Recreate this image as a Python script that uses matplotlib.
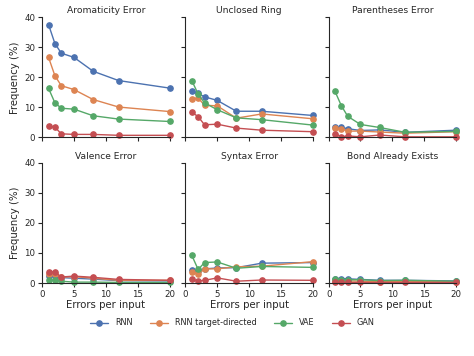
import matplotlib
matplotlib.use("Agg")
import matplotlib.pyplot as plt
import seaborn as sns

errors = [1, 2, 3, 5, 8, 12, 20]
models = ["RNN", "RNN target-directed", "VAE", "GAN"]
titles = ["Aromaticity Error", "Unclosed Ring", "Parentheses Error",
          "Valence Error", "Syntax Error", "Bond Already Exists"]

# frequency (%) per panel, one list per model
aromaticity = [
    [37.5, 31.2, 28.0, 26.6, 22.0, 18.9, 16.4],
    [26.6, 20.5, 17.2, 15.9, 12.6, 10.1, 8.6],
    [16.3, 11.5, 9.7, 9.4, 7.2, 6.1, 5.3],
    [3.8, 3.4, 1.2, 1.0, 1.0, 0.7, 0.7],
]
unclosed = [
    [15.5, 14.6, 13.5, 12.3, 8.7, 8.7, 7.3],
    [12.7, 13.1, 10.7, 10.5, 6.4, 7.8, 6.2],
    [18.9, 14.4, 11.5, 9.2, 6.5, 5.9, 4.1],
    [8.4, 6.9, 4.2, 4.4, 3.1, 2.4, 1.9],
]
parentheses = [
    [3.3, 3.3, 2.9, 2.3, 2.5, 1.7, 2.4],
    [3.0, 2.8, 2.1, 2.1, 1.8, 1.4, 1.9],
    [15.3, 10.5, 7.0, 4.3, 3.3, 1.7, 2.0],
    [1.3, 0.2, 0.5, 0.2, 0.8, 0.2, 0.2],
]
valence = [
    [2.4, 2.2, 1.8, 1.6, 1.3, 0.8, 0.7],
    [3.1, 2.9, 2.0, 2.1, 1.6, 0.9, 0.9],
    [1.1, 0.9, 0.6, 0.3, 0.3, 0.2, 0.2],
    [3.7, 3.7, 2.0, 2.3, 1.9, 1.2, 0.9],
]
syntax = [
    [4.2, 4.0, 4.7, 5.0, 5.1, 6.6, 6.8],
    [3.8, 2.9, 4.7, 4.7, 5.4, 5.6, 7.1],
    [9.2, 4.5, 6.8, 7.0, 4.9, 5.5, 5.2],
    [1.2, 0.7, 0.9, 1.7, 0.6, 1.0, 0.9],
]
bond = [
    [1.5, 1.5, 1.4, 1.2, 0.9, 0.9, 0.7],
    [0.7, 0.7, 0.7, 0.6, 0.4, 0.6, 0.4],
    [1.2, 1.1, 1.1, 1.1, 0.8, 0.9, 0.6],
    [0.2, 0.2, 0.2, 0.2, 0.2, 0.2, 0.2],
]
panels = [aromaticity, unclosed, parentheses, valence, syntax, bond]

sns.set_theme(style="ticks")
plt.rcParams['font.family'] = ['DejaVu Sans']
colors = sns.color_palette("deep", 4)

fig, axes = plt.subplots(2, 3, figsize=(4.74, 3.56), dpi=100, sharex=True, sharey=True)
fig.subplots_adjust(left=0.089, right=0.962, top=0.952, bottom=0.205,
                    wspace=0.125, hspace=0.21)

for ax, title, data in zip(axes.flat, titles, panels):
    for name, vals, c in zip(models, data, colors):
        ax.plot(errors, vals, marker='o', markersize=3.8, linewidth=1.0,
                color=c, label=name, clip_on=False)
    ax.set_title(title, fontsize=6.6, pad=3)
    ax.set_xlim(0, 20)
    ax.set_ylim(0, 40)
    ax.set_xticks([0, 5, 10, 15, 20])
    ax.set_yticks([0, 10, 20, 30, 40])
    ax.tick_params(labelsize=6.2, length=3, width=0.8, pad=2)
    for s in ['left', 'bottom']:
        ax.spines[s].set_linewidth(0.8)
    sns.despine(ax=ax)

for ax in axes[:, 0]:
    ax.set_ylabel("Frequency (%)", fontsize=7.3, labelpad=3)
for ax in axes[1, :]:
    ax.set_xlabel("Errors per input", fontsize=7.3, labelpad=1)

handles, labels = axes[0, 0].get_legend_handles_labels()
fig.legend(handles, labels, loc='center', bbox_to_anchor=(0.49, 0.093), ncol=4,
           frameon=False, fontsize=5.9, handlelength=2.2, columnspacing=2.1,
           handletextpad=0.85)

fig.savefig("out.png", dpi=100)
